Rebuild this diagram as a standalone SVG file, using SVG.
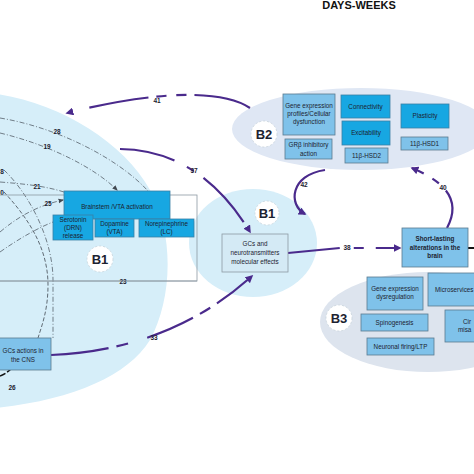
<svg xmlns="http://www.w3.org/2000/svg" width="474" height="474" viewBox="0 0 474 474">
<defs>
<style>
text{font-family:"Liberation Sans",Arial,sans-serif;fill:#1c2230;}
.bt{font-size:6.3px;text-anchor:middle;}
.num{font-size:6.5px;font-weight:bold;text-anchor:middle;}
.lbl{font-size:13px;font-weight:bold;text-anchor:middle;}
.bright{fill:#17a7e2;stroke:#3a7fa6;stroke-width:0.8;}
.med{fill:#7fc2ea;stroke:#5a7a90;stroke-width:0.8;}
.pale{fill:#d4eaf5;stroke:#8d9aa3;stroke-width:0.8;}
.lcirc{fill:#ffffff;stroke:#c8d3da;stroke-width:0.8;stroke-dasharray:2 2;}
.pur{fill:none;stroke:#4a2a8c;stroke-width:2.2;}
.gd{fill:none;stroke:#55606a;stroke-width:0.8;stroke-dasharray:5 2 1 2;}
.gd2{fill:none;stroke:#404850;stroke-width:0.8;stroke-dasharray:4 2;}
</style>
<marker id="ap" viewBox="0 0 10 10" refX="8" refY="5" markerWidth="3.6" markerHeight="3.6" orient="auto"><path d="M0,0 L10,5 L0,10 Z" fill="#4a2a8c"/></marker>
<marker id="ag" viewBox="0 0 10 10" refX="8" refY="5" markerWidth="7" markerHeight="7" orient="auto"><path d="M0,1 L10,5 L0,9 Z" fill="#404850"/></marker>
<marker id="ak" viewBox="0 0 10 10" refX="8" refY="5" markerWidth="4" markerHeight="4" orient="auto"><path d="M0,0 L10,5 L0,10 Z" fill="#111"/></marker>
</defs>
<rect width="474" height="474" fill="#ffffff"/>

<!-- background regions -->
<path d="M-30,92 C40,92 120,135 150,190 C175,235 172,300 150,340 C125,380 60,405 -30,410 Z" fill="#d6eef9"/>
<ellipse cx="253" cy="243" rx="64" ry="54" fill="#d6eef9"/>
<ellipse cx="361" cy="129" rx="129" ry="41" fill="#dfe7f4"/>
<ellipse cx="428" cy="322" rx="108" ry="50" fill="#dde4ee"/>

<text x="359" y="8.5" style="font-size:11px;font-weight:bold;text-anchor:middle;fill:#111">DAYS-WEEKS</text>

<!-- connectors -->
<g id="connectors">
<path class="gd" d="M0,118 C60,128 120,160 148,191"/>
<path class="gd" d="M0,133 C50,145 95,168 117,190" marker-end="url(#ag)"/>
<path class="gd" d="M0,182 C25,184 45,186 64,192"/>
<path class="gd" d="M0,232 C20,215 40,205 63,200" marker-end="url(#ag)"/>
<path class="gd" d="M0,252 C20,238 38,228 53,222"/>
<path class="gd" d="M4,170 C30,195 53,240 53,280 L53,338"/>
<path class="gd2" d="M4,192 C25,215 48,245 48,285 C48,310 42,325 38,338"/>
<path fill="none" stroke="#8d9aa3" stroke-width="0.8" d="M0,281 L197,281"/>
<path fill="none" stroke="#111" stroke-width="1.5" stroke-dasharray="6 2" d="M0,376 C10,372 16,365 18,356" marker-end="url(#ak)"/>
<path class="pur" stroke-dasharray="58 8 10 10 10 8 60" d="M250,108 C220,88 150,92 67,113" marker-end="url(#ap)"/>
<path class="pur" stroke-dasharray="56 14 8 12 60" d="M120,149 Q200,150 250,232" marker-end="url(#ap)"/>
<path class="pur" stroke-dasharray="58 8 12 20 50 8 12 8 40" d="M51,355 Q170,350 252,276" marker-end="url(#ap)"/>
<path class="pur" stroke-dasharray="52 14 10 12 20" d="M288,253 L340,248 L400,248" marker-end="url(#ap)"/>
<path class="pur" stroke-dasharray="40 10 8 10 20" d="M447,228 C462,200 445,182 412,168" marker-end="url(#ap)"/>
<path class="pur" d="M325,170 C290,175 288,205 305,214" marker-end="url(#ap)"/>
<path fill="none" stroke="#111" stroke-width="2" d="M468,248 L474,248"/>
<text class="num" x="57" y="134">28</text>
<text class="num" x="47" y="149">19</text>
<text class="num" x="37" y="189">21</text>
<text class="num" x="48" y="206">25</text>
<text class="num" x="2" y="174">8</text>
<text class="num" x="2" y="195">0</text>
<text class="num" x="123" y="284">23</text>
<text class="num" x="12" y="390">26</text>
<text class="num" x="157" y="103">41</text>
<text class="num" x="194" y="173">37</text>
<text class="num" x="154" y="340">33</text>
<text class="num" x="347" y="250">38</text>
<text class="num" x="443" y="190">40</text>
<text class="num" x="304" y="187">42</text>
</g>

<!-- B1 brainstem group -->
<g id="brainstem-group">
<rect x="-5" y="195" width="202" height="86" fill="none" stroke="#8d9aa3" stroke-width="0.8"/>
<circle class="lcirc" cx="100" cy="259" r="13"/>
<text class="lbl" x="100" y="264">B1</text>
</g>
<g id="brainstem">
<rect class="bright" x="64" y="191" width="106" height="28"/>
<text class="bt" x="117" y="209">Brainstem /VTA activation</text>
</g>
<g id="serotonin">
<rect class="bright" x="53" y="215" width="40" height="25"/>
<text class="bt" x="73" y="222">Serotonin</text>
<text class="bt" x="73" y="230">(DRN)</text>
<text class="bt" x="73" y="238">release</text>
</g>
<g id="dopamine">
<rect class="bright" x="95" y="219" width="39" height="18"/>
<text class="bt" x="114.5" y="226">Dopamine</text>
<text class="bt" x="114.5" y="234">(VTA)</text>
</g>
<g id="norepinephrine">
<rect class="bright" x="139" y="219" width="55" height="18"/>
<text class="bt" x="166.5" y="226">Norepinephrine</text>
<text class="bt" x="166.5" y="234">(LC)</text>
</g>
<g id="gcs-cns">
<rect class="med" x="-20" y="338" width="71" height="32"/>
<text class="bt" x="23" y="353">GCs actions in</text>
<text class="bt" x="23" y="362">the CNS</text>
</g>

<!-- B1 molecular -->
<g id="b1-label">
<circle class="lcirc" cx="267" cy="213" r="12"/>
<text class="lbl" x="267" y="218">B1</text>
</g>
<g id="gcs-molecular">
<rect class="pale" x="222" y="234" width="66" height="38"/>
<text class="bt" x="255" y="246">GCs and</text>
<text class="bt" x="255" y="255">neurotransmitters</text>
<text class="bt" x="255" y="264">molecular effects</text>
</g>

<!-- B2 -->
<g id="b2-label">
<circle class="lcirc" cx="264" cy="134" r="13"/>
<text class="lbl" x="264" y="139">B2</text>
</g>
<g id="gene-profiles">
<rect class="med" x="283" y="94" width="52" height="41"/>
<text class="bt" x="309" y="108">Gene expression</text>
<text class="bt" x="309" y="116">profiles/Cellular</text>
<text class="bt" x="309" y="124">dysfunction</text>
</g>
<g id="gr-beta">
<rect class="med" x="285" y="139" width="47" height="20"/>
<text class="bt" x="308.5" y="147">GRβ inhibitory</text>
<text class="bt" x="308.5" y="156">action</text>
</g>
<g id="connectivity">
<rect class="bright" x="341" y="95" width="49" height="23"/>
<text class="bt" x="365.5" y="109">Connectivity</text>
</g>
<g id="excitability">
<rect class="bright" x="342" y="121" width="48" height="24"/>
<text class="bt" x="366" y="135">Excitability</text>
</g>
<g id="hsd2">
<rect class="med" x="345" y="148" width="43" height="15"/>
<text class="bt" x="366.5" y="158">11β-HSD2</text>
</g>
<g id="plasticity">
<rect class="bright" x="401" y="104" width="48" height="24"/>
<text class="bt" x="425" y="118">Plasticity</text>
</g>
<g id="hsd1">
<rect class="med" x="401" y="137" width="47" height="13"/>
<text class="bt" x="424.5" y="146">11β-HSD1</text>
</g>

<!-- short lasting -->
<g id="short-lasting">
<rect class="med" x="402" y="228" width="66" height="39"/>
<text class="bt" x="435" y="241" style="font-weight:bold">Short-lasting</text>
<text class="bt" x="435" y="249.5" style="font-weight:bold">alterations in the</text>
<text class="bt" x="435" y="258" style="font-weight:bold">brain</text>
</g>

<!-- B3 -->
<g id="b3-label">
<circle class="lcirc" cx="339" cy="318" r="13"/>
<text class="lbl" x="339" y="323">B3</text>
</g>
<g id="gene-dysreg">
<rect class="med" x="367" y="277" width="56" height="33"/>
<text class="bt" x="395" y="291">Gene expression</text>
<text class="bt" x="395" y="299">dysregulation</text>
</g>
<g id="micro">
<rect class="med" x="428" y="273" width="60" height="33"/>
<text class="bt" x="435" y="292" style="text-anchor:start">Microservices</text>
</g>
<g id="spinogenesis">
<rect class="med" x="361" y="314" width="67" height="17"/>
<text class="bt" x="394.5" y="325">Spinogenesis</text>
</g>
<g id="neuronal-firing">
<rect class="med" x="367" y="338" width="67" height="17"/>
<text class="bt" x="400.5" y="349">Neuronal firing/LTP</text>
</g>
<g id="circadian">
<rect class="med" x="445" y="310" width="40" height="32"/>
<text class="bt" x="463" y="324" style="text-anchor:start">Cir</text>
<text class="bt" x="458" y="332" style="text-anchor:start">misa</text>
</g>
</svg>
